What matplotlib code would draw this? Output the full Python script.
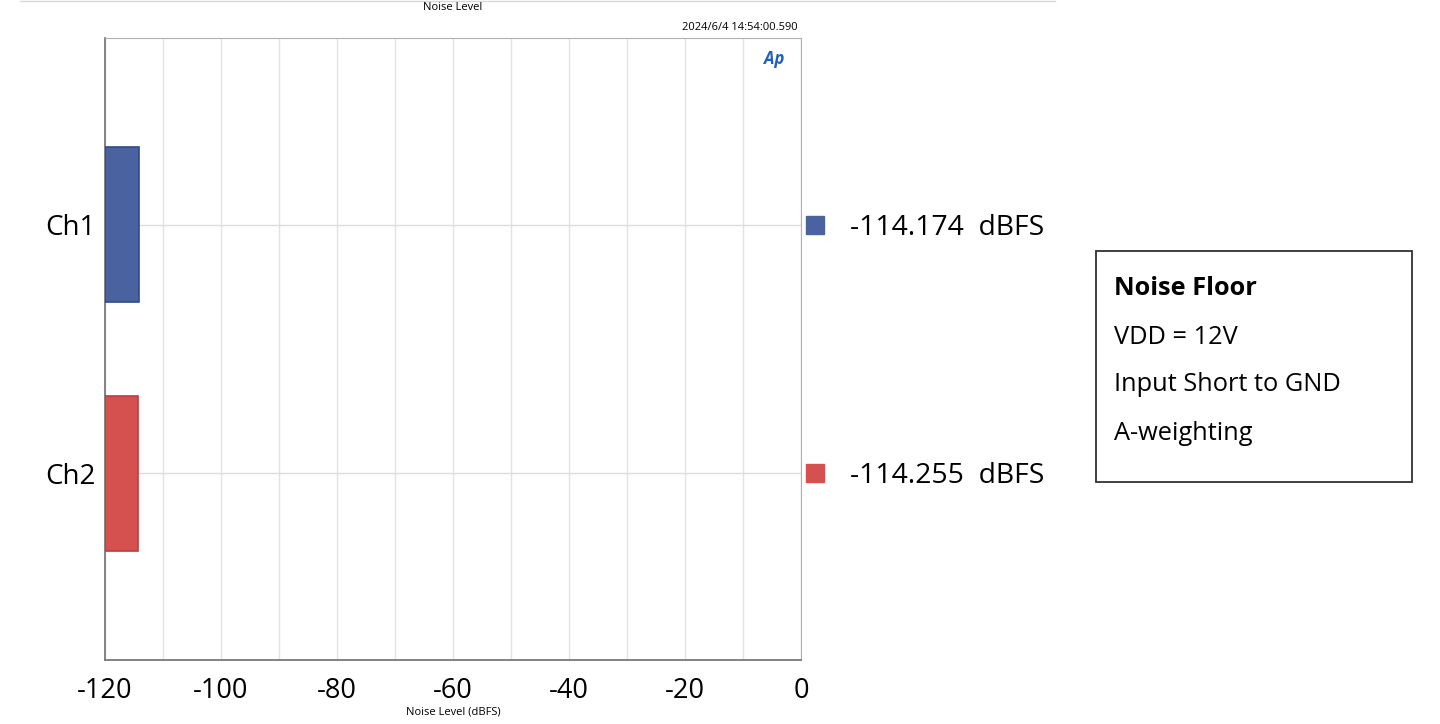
import matplotlib

matplotlib.use("Agg")
import matplotlib.pyplot as plt
from matplotlib.patches import Rectangle
from matplotlib.lines import Line2D

plt.rcParams["font.family"] = ["Open Sans", "Noto Sans", "DejaVu Sans"]
plt.rcParams["axes.unicode_minus"] = False

# data
channels = ["Ch1", "Ch2"]
noise_dbfs = [-114.174, -114.255]
bar_colors = ["#4a62a0", "#d4514f"]
edge_colors = ["#2f4a88", "#c03c3a"]
x_floor = -120
box_lines = ["Noise Floor", "VDD = 12V", "Input Short to GND", "A-weighting"]

W, H = 1440, 724
fig = plt.figure(figsize=(W / 100, H / 100), dpi=100)
ax = fig.add_axes([105 / W, 1 - 660 / H, 696 / W, 622 / H])

ypos = list(range(len(channels)))
ax.barh(ypos, [v - x_floor for v in noise_dbfs], left=x_floor, height=0.625,
        color=bar_colors, edgecolor=edge_colors, lw=1.2, zorder=3)

ax.set_xlim(-120, 0)
ax.set_ylim(1.75, -0.75)
ax.set_xticks(range(-120, 1, 20))
ax.set_xticks(range(-110, 0, 20), minor=True)
ax.set_yticks(ypos)
ax.set_yticklabels(channels)
ax.tick_params(axis="x", which="both", length=0, pad=12, labelsize=19.5)
ax.tick_params(axis="y", length=0, pad=7, labelsize=20)
ax.grid(True, axis="x", which="both", color="#e2e2e2", lw=1, zorder=0)
ax.grid(True, axis="y", color="#dcdcdc", lw=1, zorder=0)
for side in ["top", "right"]:
    ax.spines[side].set_color("#b0b0b0")
for side in ["left", "bottom"]:
    ax.spines[side].set_color("#7a7a7a")
    ax.spines[side].set_linewidth(1.3)
ax.set_xlabel("Noise Level (dBFS)", fontsize=8, labelpad=1)

# readouts on the right of the plot
ytr = ax.get_yaxis_transform()
for y, v, c in zip(ypos, noise_dbfs, bar_colors):
    ax.plot(1.02, y, "s", ms=13, color=c, transform=ytr, clip_on=False)
    ax.text(1.07, y + 0.012, f"{v:.3f}  dBFS", transform=ytr, va="center",
            ha="left", fontsize=20.3)

# header
fig.text(453 / W, 1 - 7 / H, "Noise Level", ha="center", va="center", fontsize=8)
fig.text(798 / W, 1 - 27 / H, "2024/6/4 14:54:00.590", ha="right",
         va="center", fontsize=8)
ax.text(0.962, 0.966, "Ap", transform=ax.transAxes, ha="center", va="center",
        fontsize=12, fontweight="bold", style="italic", color="#1f5fc0")
fig.add_artist(Line2D([20 / W, 1055 / W], [1 - 1 / H, 1 - 1 / H],
                      color="#d8d8d8", lw=1))

# conditions box
fig.add_artist(Rectangle((1096 / W, 1 - 482 / H), 316 / W, 231 / H,
                         transform=fig.transFigure, fill=False,
                         edgecolor="#303030", lw=1.3))
for i, line in enumerate(box_lines):
    fig.text(1114 / W, 1 - (289 + 48 * i) / H, line, ha="left", va="center",
             fontsize=18.3, fontweight="bold" if i == 0 else "normal")

fig.savefig("out.png", dpi=100)
